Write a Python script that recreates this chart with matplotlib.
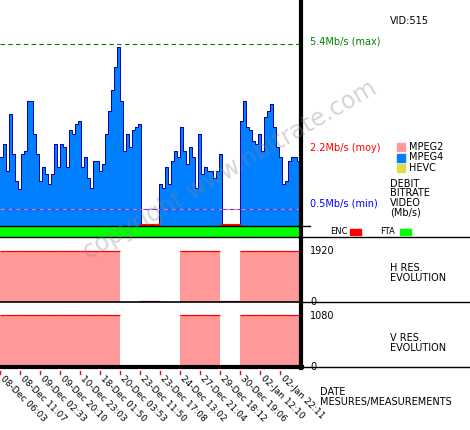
import numpy as np
import matplotlib
matplotlib.use("Agg")
import matplotlib.pyplot as plt

# Debit video (Mb/s), un point tous les 3 px de temps
seg1 = [2.04, 2.44, 1.64, 3.33, 2.14, 1.34, 1.09, 2.14, 2.24, 3.73, 3.73, 2.74, 2.14, 1.34, 1.74,
        1.54, 1.24, 1.54, 2.44, 1.74, 2.44, 2.34, 1.74, 2.84, 2.74, 3.03, 3.13, 1.74, 2.04, 1.44,
        1.14, 1.94, 1.94, 1.64, 1.84, 2.74, 3.43, 4.03, 4.73, 5.32, 3.73, 2.24, 2.74, 2.34, 2.84,
        2.94, 3.03]
seg2 = [1.24, 1.14, 1.74, 1.24, 1.94, 2.24, 2.04, 2.94, 2.24, 1.84, 2.34, 2.04, 1.14, 2.74, 1.54,
        1.74, 1.64, 1.64, 1.44, 1.64, 2.14]
seg3 = [3.13, 3.73, 2.94, 2.84, 2.54, 2.44, 2.74, 2.24, 3.23, 3.43, 3.63, 2.94, 2.34, 2.04, 1.24,
        1.34, 1.94, 2.04, 2.04, 1.94, 1.84]
gap = [0.0] * 6
bitrate = np.array(seg1 + gap + seg2 + gap + seg3)
bmax, bmoy, bmin = 5.4, 2.2, 0.5

# Resolutions par tranche de date
h_res = [1920] * 6 + [np.nan, 40, np.nan, 1920, 1920, 40, 1920, 1920, 1920]
v_res = [1080] * 6 + [np.nan, np.nan, np.nan, 1080, 1080, np.nan, 1080, 1080, 1080]
dates = ["08-Dec 06:03", "08-Dec 11:07", "09-Dec 02:33", "09-Dec 20:10", "10-Dec 23:03",
         "18-Dec 01:50", "20-Dec 03:53", "23-Dec 11:50", "23-Dec 17:08", "24-Dec 13:02",
         "27-Dec 21:04", "29-Dec 18:12", "30-Dec 19:06", "02-Jan 12:10", "02-Jan 22:11"]

W, H = 470, 430
fig = plt.figure(figsize=(4.7, 4.3), dpi=100)
fig.patch.set_facecolor("white")

def box(x0, y0, x1, y1):
    return [x0 / W, 1 - y1 / H, (x1 - x0) / W, (y1 - y0) / H]

pink = "#ff9999"
blue = "#0080ff"

# Panneau debit
ax = fig.add_axes(box(0, 0, 300, 226))
ax.set_facecolor("#dcdcdc")
t = np.arange(len(bitrate))
ax.fill_between(t, 0, bitrate, step="post", color=blue, lw=0)
ax.step(t, bitrate, where="post", color="#0000aa", lw=0.7)
g = bitrate == 0
ax.step(t, np.where(g, 0.04, np.nan), where="post", color="red", lw=1.5)
ax.axhline(bmax, color="green", ls=(0, (4, 3)), lw=0.8)
ax.axhline(bmin, color="#ff8888", ls=(0, (4, 3)), lw=0.8)
ax.axhline(bmin, color="#4444ff", ls=(3.5, (4, 3)), lw=0.8)
ax.set_xlim(0, len(bitrate) - 1)
ax.set_ylim(0, 6.72)
ax.axis("off")

# Bande verte FTA
axg = fig.add_axes(box(0, 226, 300, 237))
axg.set_facecolor("#00ff00")
axg.set_xticks([]); axg.set_yticks([])
for s in axg.spines.values():
    s.set_visible(False)

# Panneaux resolution
xs = np.arange(len(h_res))
for (y0, y1, vals, top) in [(237, 302, h_res, 2447), (302, 367, v_res, 1350)]:
    a = fig.add_axes(box(0, y0, 300, y1))
    vv = np.array(vals, dtype=float)
    a.bar(xs, np.nan_to_num(vv), width=1, align="edge", color=pink, lw=0)
    ok = ~np.isnan(vv)
    a.hlines(vv[ok], xs[ok], xs[ok] + 1, color="red", lw=0.9)
    a.set_xlim(0, len(vals))
    a.set_ylim(0, top)
    a.axis("off")

# Calque texte / lignes en pixels
ov = fig.add_axes([0, 0, 1, 1], facecolor="none")
ov.set_xlim(0, W); ov.set_ylim(H, 0); ov.axis("off")
ov.plot([301, 301], [0, 368], color="black", lw=3)
ov.plot([0, 302], [367, 367], color="black", lw=3)
ov.plot([0, 310], [226, 226], color="black", lw=1)
for yy in [237, 302, 367]:
    ov.plot([300, W], [yy, yy], color="black", lw=1)
ov.plot([0, 300], [237, 237], color="black", lw=1)
ov.plot([0, 300], [302, 302], color="black", lw=1.2)

fs = 7
ov.text(390, 21, "VID:515", fontsize=fs, va="center")
ov.text(310, 42, "%.1fMb/s (max)" % bmax, fontsize=fs, color="green", va="center")
ov.text(310, 148, "%.1fMb/s (moy)" % bmoy, fontsize=fs, color="red", va="center")
ov.text(310, 204, "%.1fMb/s (min)" % bmin, fontsize=fs, color="blue", va="center")
for i, (lab, c) in enumerate([("MPEG2", pink), ("MPEG4", blue), ("HEVC", "#dddd44")]):
    y = 147 + i * 10.5
    ov.add_patch(plt.Rectangle((397, y - 4), 8, 8, color=c))
    ov.text(409, y, lab, fontsize=fs, va="center")
ov.text(390, 198, "DEBIT\nBITRATE\nVIDEO\n(Mb/s)", fontsize=fs, va="center", linespacing=0.95)
ov.text(330, 232, "ENC", fontsize=6, va="center")
ov.add_patch(plt.Rectangle((350, 229), 11, 6, color="red"))
ov.text(380, 232, "FTA", fontsize=6, va="center")
ov.add_patch(plt.Rectangle((400, 229), 11, 6, color="#00ff00"))
ov.text(310, 251, "1920", fontsize=fs, va="center")
ov.text(310, 302, "0", fontsize=fs, va="center")
ov.text(310, 316, "1080", fontsize=fs, va="center")
ov.text(310, 367, "0", fontsize=fs, va="center")
ov.text(390, 273, "H RES.\nEVOLUTION", fontsize=fs, va="center", linespacing=0.9)
ov.text(390, 343, "V RES.\nEVOLUTION", fontsize=fs, va="center", linespacing=0.9)
ov.text(320, 397, "DATE\nMESURES/MEASUREMENTS", fontsize=fs, va="center", linespacing=0.9)
for i, d in enumerate(dates):
    x = i * 20
    ov.plot([x, x], [371, 374], color="red", lw=1)
    ov.text(x + 2, 377, d, fontsize=6.5, rotation=-45, rotation_mode="anchor",
            ha="left", va="center")
ov.text(230, 170, "copyright www.nbitrate.com", fontsize=17, color="#888888", alpha=0.35,
        rotation=30, ha="center", va="center")

fig.savefig("out.png", dpi=100)
